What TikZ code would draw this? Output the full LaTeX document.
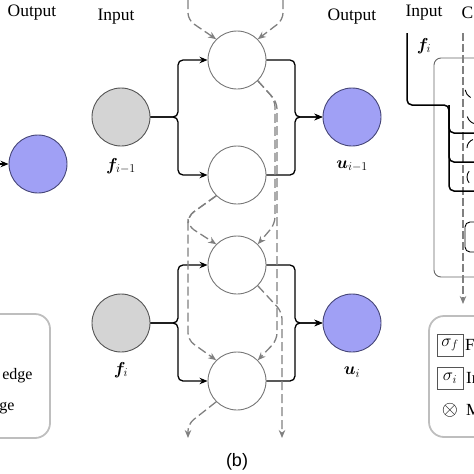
\documentclass[tikz,border=0pt]{standalone}
\usepackage{fontspec}
\setmainfont{Liberation Serif}
\newfontfamily\arialfont{Liberation Sans}
\usepackage{bm}
\usetikzlibrary{arrows.meta}
\definecolor{bluefill}{RGB}{160,160,245}
\definecolor{blueedge}{RGB}{70,70,120}
\definecolor{grayfill}{RGB}{212,212,212}
\definecolor{grayedge}{RGB}{85,85,85}
\definecolor{dashcol}{RGB}{128,128,128}
\definecolor{boxcol}{RGB}{190,190,190}
\begin{document}
\begin{tikzpicture}[x=1pt,y=-1pt,
  every node/.style={font=\fontsize{17}{20}\selectfont},
  inp/.style={circle,minimum size=58pt,inner sep=0pt,draw=grayedge,fill=grayfill,line width=0.9pt},
  outp/.style={circle,minimum size=58pt,inner sep=0pt,draw=blueedge,fill=bluefill,line width=0.9pt},
  hid/.style={circle,minimum size=58pt,inner sep=0pt,draw=grayedge!80,fill=white,line width=0.9pt},
  sol/.style={black,line width=1.3pt,rounded corners=5pt},
  solarr/.style={sol,-{Stealth[length=8pt,width=6.5pt]}},
  dsh/.style={dashcol,line width=1.3pt,dash pattern=on 9pt off 4pt,rounded corners=7pt},
  dsharr/.style={dsh,-{Stealth[length=8pt,width=6.5pt]}},
  legbox/.style={boxcol,line width=1.8pt,rounded corners=15pt},
  head/.style={font=\fontsize{17.5}{20}\selectfont},
  lab/.style={font=\fontsize{17}{20}\selectfont},
  gbox/.style={draw=grayedge,line width=0.9pt,minimum width=26pt,minimum height=22pt,inner sep=0pt}]
\useasboundingbox (0,0) rectangle (474,474);
\clip (0,0) rectangle (474,474);

% ---------- left partial panel ----------
\node[head] (outL) at (32,13) {Output};
\node[outp] (oL) at (38,164) {};
\coordinate (oLin) at (-5,164);
\draw[solarr] (oLin) -- (oL.west);
\draw[legbox] (-40,314) rectangle (50,438);
\node[lab,anchor=east,font=\fontsize{16}{18}\selectfont] (e1) at (36,376) {edge};
\node[lab,anchor=east,font=\fontsize{16}{18}\selectfont] (e2) at (18,408) {ge};

% ---------- middle panel ----------
\node[head] (inM) at (116,17) {Input};
\node[head] (outM) at (352,17) {Output};
\node[inp] (in1) at (121,117) {};
\node[inp] (in2) at (121,323) {};
\node[lab] (lf1) at (121,166) {$\bm{f}_{i-1}$};
\node[lab] (lf2) at (121,370) {$\bm{f}_{i}$};
\node[hid] (h1) at (237,60) {};
\node[hid] (h2) at (237,175) {};
\node[hid] (h3) at (237,265) {};
\node[hid] (h4) at (237,381) {};
\node[outp] (o1) at (352,117) {};
\node[outp] (o2) at (352,323) {};
\node[lab] (lu1) at (352,166) {$\bm{u}_{i-1}$};
\node[lab] (lu2) at (352,372) {$\bm{u}_{i}$};

% solid branches
\draw[solarr] (in1.east) -- (178,117) |- (h1.west);
\draw[solarr] (in1.east) -- (178,117) |- (h2.west);
\draw[solarr] (in2.east) -- (178,323) |- (h3.west);
\draw[solarr] (in2.east) -- (178,323) |- (h4.west);
\draw[solarr] (h1.east) -| (295,117) -- (o1.west);
\draw[solarr] (h2.east) -| (295,117) -- (o1.west);
\draw[solarr] (h3.east) -| (295,323) -- (o2.west);
\draw[solarr] (h4.east) -| (295,323) -- (o2.west);

% dashed recurrent edges
\coordinate (tl) at (188,0);
\coordinate (tr) at (283,0);
\coordinate (bl) at (188,438);
\coordinate (br) at (282,438);
\draw[dsharr] (tl) -- (188,20) -- (h1.135);
\draw[dsharr] (tr) -- (283,20) -- (h1.45);
\draw[dsharr] (h1.-45) -- (275,100) -- (275,224) -- (h3.45);
\draw[dsharr] (h1.-45) -- (277,102) -- (277,340) -- (h4.45);
\draw[dsharr] (h2.-135) -- (188,216) -- (188,226) -- (h3.135);
\draw[dsharr] (h2.-135) -- (188,216) -- (188,340) -- (h4.135);
\draw[dsharr] (h3.-45) -- (282,312) -- (br);
\draw[dsharr] (h4.-135) -- (188,424) -- (bl);

\node[font=\arialfont\fontsize{18}{20}\selectfont] (cap) at (237,462) {(b)};

% ---------- right partial panel ----------
\node[head] (inR) at (424,13) {Input};
\node[head,anchor=west,inner sep=0pt] (cR) at (461.5,13) {C};
\node[lab] (lfR) at (424,46) {$\bm{f}_{i}$};
\draw[grayedge!90,line width=0.9pt,rounded corners=7pt] (434,58) rectangle (520,277);
\coordinate (dtop) at (463,33);
\coordinate (dbot) at (463,304);
\draw[dashcol,line width=1.1pt,dash pattern=on 8pt off 3pt,-{Stealth[length=8pt,width=6.5pt]}] (dtop) -- (dbot);
\coordinate (sR) at (407,33);
\draw[sol,line width=1.5pt] (sR) |- (449,105) |- (480,133);
\draw[sol,line width=1.5pt] (449,105) |- (480,162);
\draw[sol,line width=1.5pt] (449,105) |- (480,191);
% partial gate circles at the edge
\draw[black,line width=0.9pt] (476,88) ++(170:11) arc[start angle=170,end angle=120,radius=11];
\draw[black,line width=0.9pt] (477,114) ++(165:10) arc[start angle=165,end angle=100,radius=10];
\draw[black,line width=0.9pt] (476,148) ++(250:9) arc[start angle=250,end angle=180,radius=9];
\draw[black,line width=0.9pt] (476,177) ++(220:9) arc[start angle=220,end angle=140,radius=9];
\draw[black,line width=0.9pt,rounded corners=5pt] (490,222) -- (465,222) -- (465,252) -- (490,252);

% right legend
\draw[legbox] (429,316) rectangle (520,437);
\node[gbox] (sf) at (450,345) {$\sigma_f$};
\node[gbox] (si) at (450,378) {$\sigma_i$};
\node[font=\fontsize{20}{20}\selectfont] (ot) at (450,410) {$\otimes$};
\node[lab,anchor=west,inner sep=0pt] (tF) at (465,345) {F};
\node[lab,anchor=west,inner sep=0pt] (tI) at (466,378) {In};
\node[lab,anchor=west,inner sep=0pt] (tM) at (466,410) {M};
\end{tikzpicture}
\end{document}
